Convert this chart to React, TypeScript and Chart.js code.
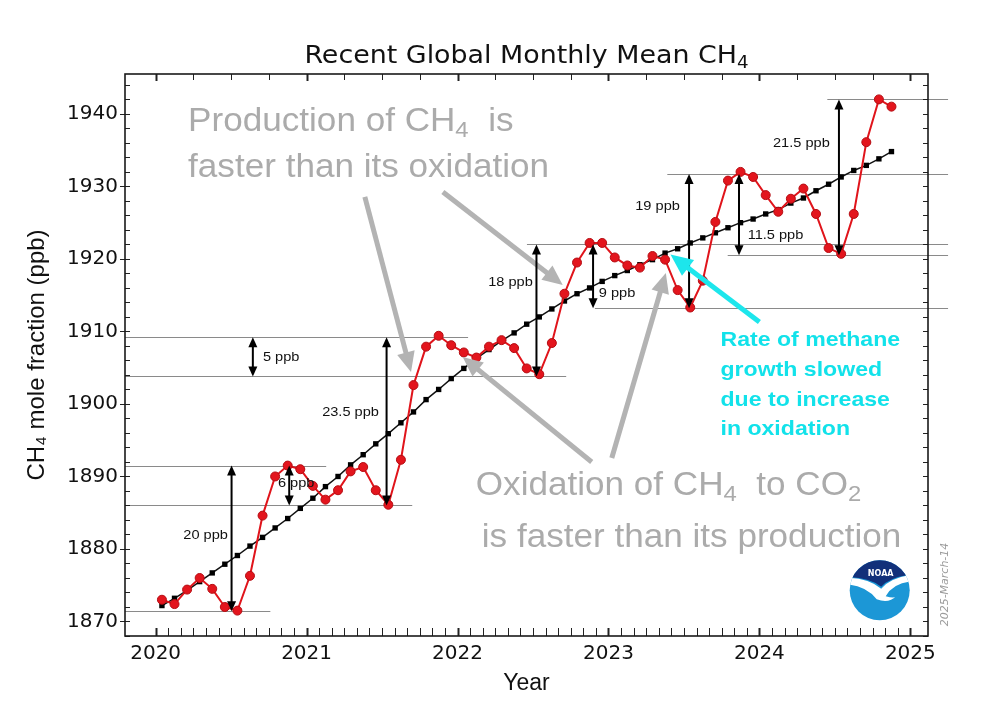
import React, { useEffect, useRef } from "react";
import { Chart, registerables } from "chart.js";

Chart.register(...registerables);

// ---------------- data ----------------
const months = [
  "2020-01","2020-02","2020-03","2020-04","2020-05","2020-06","2020-07","2020-08","2020-09","2020-10","2020-11","2020-12",
  "2021-01","2021-02","2021-03","2021-04","2021-05","2021-06","2021-07","2021-08","2021-09","2021-10","2021-11","2021-12",
  "2022-01","2022-02","2022-03","2022-04","2022-05","2022-06","2022-07","2022-08","2022-09","2022-10","2022-11","2022-12",
  "2023-01","2023-02","2023-03","2023-04","2023-05","2023-06","2023-07","2023-08","2023-09","2023-10","2023-11","2023-12",
  "2024-01","2024-02","2024-03","2024-04","2024-05","2024-06","2024-07","2024-08","2024-09","2024-10","2024-11",
];

const monthlyMean = [
  1873.0, 1872.4, 1874.4, 1876.0, 1874.5, 1872.0, 1871.5, 1876.3, 1884.6, 1890.0, 1891.5, 1891.0,
  1888.7, 1886.8, 1888.1, 1890.7, 1891.3, 1888.1, 1886.1, 1892.3, 1902.6, 1907.9, 1909.4, 1908.1,
  1907.1, 1906.4, 1907.9, 1908.8, 1907.7, 1904.9, 1904.1, 1908.4, 1915.2, 1919.5, 1922.2, 1922.2,
  1920.2, 1919.1, 1918.8, 1920.4, 1919.9, 1915.7, 1913.3, 1917.0, 1925.1, 1930.8, 1932.0, 1931.3,
  1928.8, 1926.5, 1928.3, 1929.7, 1926.2, 1921.5, 1920.7, 1926.2, 1936.1, 1942.0, 1941.0,
];

const trend = [
  1872.2, 1873.2, 1874.3, 1875.5, 1876.7, 1877.9, 1879.1, 1880.4, 1881.6, 1882.9, 1884.2, 1885.6,
  1887.0, 1888.6, 1890.0, 1891.6, 1893.0, 1894.5, 1895.9, 1897.4, 1898.9, 1900.6, 1902.0, 1903.5,
  1904.9, 1906.3, 1907.5, 1908.7, 1909.8, 1911.0, 1912.0, 1913.1, 1914.2, 1915.2, 1916.0, 1916.9,
  1917.7, 1918.4, 1919.2, 1919.9, 1920.8, 1921.4, 1922.2, 1922.9, 1923.6, 1924.3, 1925.0, 1925.5,
  1926.2, 1926.8, 1927.7, 1928.4, 1929.4, 1930.3, 1931.3, 1932.2, 1932.9, 1933.8, 1934.8,
];

const xTickYears = [2020, 2021, 2022, 2023, 2024, 2025];
const yTickValues = [1870, 1880, 1890, 1900, 1910, 1920, 1930, 1940];

const chartTitle = ["Recent Global Monthly Mean CH", "4"];
const yAxisTitle = "CH\u2084 mole fraction (ppb)";
const xAxisTitle = "Year";

// horizontal reference levels (ppb) and their extent in years
const levelValues = [1871.4, 1891.5, 1886.0, 1909.2, 1903.8, 1922.0, 1913.2, 1931.7, 1920.5, 1942.0];
const levelStarts = [2019.797, 2019.797, 2019.797, 2019.797, 2019.797, 2022.46, 2022.91, 2023.39, 2023.79, 2024.45];
const levelEnds = [2020.76, 2021.13, 2021.70, 2022.07, 2022.72, 2025.25, 2025.25, 2025.25, 2025.25, 2025.25];

// double-headed range arrows
const rangeLabels = ["20 ppb", "6 ppb", "23.5 ppb", "5 ppb", "18 ppb", "9 ppb", "19 ppb", "11.5 ppb", "21.5 ppb"];
const rangeX = [2020.503, 2020.885, 2021.530, 2020.644, 2022.523, 2022.898, 2023.534, 2023.865, 2024.527];
const rangeLow = [1871.4, 1886.0, 1886.0, 1903.8, 1903.8, 1913.2, 1913.2, 1920.5, 1920.5];
const rangeHigh = [1891.5, 1891.5, 1909.2, 1909.2, 1922.0, 1922.0, 1931.7, 1931.7, 1942.0];
const rangeLabelX = [2020.479, 2020.81, 2021.479, 2020.711, 2022.499, 2022.936, 2023.473, 2023.922, 2024.466];
const rangeLabelY = [1881.9, 1889.0, 1898.9, 1906.5, 1916.8, 1915.2, 1927.2, 1923.3, 1936.0];
const rangeLabelSide = ["right", "left", "right", "left", "right", "left", "right", "left", "right"];

// grey pointer arrows [fromX, fromY, toX, toY]
const greyArrows = [
  [2021.386, 1928.55, 2021.692, 1904.41],
  [2021.903, 1929.24, 2022.697, 1916.41],
  [2022.889, 1892.0, 2022.034, 1906.48],
  [2023.022, 1892.55, 2023.380, 1918.07],
];
const cyanArrow = [2024.0, 1911.31, 2023.411, 1920.6];

const productionText = [["Production of CH", "4", "  is"], ["faster than its oxidation"]];
const productionX = 2020.215;
const productionY = [1937.66, 1931.3];
const oxidationText = [["Oxidation of CH", "4", "  to CO", "2"], ["is faster than its production"]];
const oxidationX = [2022.121, 2022.161];
const oxidationY = [1887.45, 1880.3];
const cyanText = ["Rate of methane", "growth slowed", "due to increase", "in oxidation"];
const cyanX = 2023.742;
const cyanY = [1908.0, 1903.86, 1899.72, 1895.72];
const stampText = "2025-March-14";

const toDecimalYear = (m: string) => {
  const [y, mo] = m.split("-").map(Number);
  return y + (mo - 0.5) / 12;
};

// ---------------- drawing helpers ----------------
const SX = 1.08;
const SANS = "'Liberation Sans', Arial, sans-serif";

function drawRich(
  ctx: CanvasRenderingContext2D,
  parts: string[],
  x: number,
  y: number,
  size: number,
  family: string,
  weight: string,
  color: string,
  align: "left" | "right" | "center",
  baseline: CanvasTextBaseline,
  sx = SX
) {
  ctx.save();
  ctx.translate(x, y);
  ctx.scale(sx, 1);
  ctx.fillStyle = color;
  ctx.textBaseline = baseline;
  ctx.textAlign = "left";
  const fonts = parts.map((_, i) => {
    const sub = i % 2 === 1;
    return `${weight} ${sub ? size * 0.68 : size}px ${family}`;
  });
  let total = 0;
  const widths = parts.map((p, i) => {
    ctx.font = fonts[i];
    const w = ctx.measureText(p).width;
    total += w;
    return w;
  });
  let cx = align === "right" ? -total : align === "center" ? -total / 2 : 0;
  parts.forEach((p, i) => {
    ctx.font = fonts[i];
    ctx.fillText(p, cx, i % 2 === 1 ? size * 0.2 : 0);
    cx += widths[i];
  });
  ctx.restore();
}

function arrowHead(ctx: CanvasRenderingContext2D, fx: number, fy: number, tx: number, ty: number, len: number, half: number) {
  const a = Math.atan2(ty - fy, tx - fx);
  const bx = tx - len * Math.cos(a);
  const by = ty - len * Math.sin(a);
  ctx.beginPath();
  ctx.moveTo(tx, ty);
  ctx.lineTo(bx + half * Math.sin(a), by - half * Math.cos(a));
  ctx.lineTo(bx - half * Math.sin(a), by + half * Math.cos(a));
  ctx.closePath();
  ctx.fill();
}

function pointer(ctx: CanvasRenderingContext2D, fx: number, fy: number, tx: number, ty: number, color: string, width: number, len: number, half: number) {
  ctx.save();
  ctx.strokeStyle = color;
  ctx.fillStyle = color;
  ctx.lineWidth = width;
  const a = Math.atan2(ty - fy, tx - fx);
  const ex = tx - (len - 2) * Math.cos(a);
  const ey = ty - (len - 2) * Math.sin(a);
  ctx.beginPath();
  ctx.moveTo(fx, fy);
  ctx.lineTo(ex, ey);
  ctx.stroke();
  arrowHead(ctx, fx, fy, tx, ty, len, half);
  ctx.restore();
}

function drawNoaa(ctx: CanvasRenderingContext2D, cx: number, cy: number, r: number) {
  ctx.save();
  ctx.beginPath();
  ctx.arc(cx, cy, r + 1.5, 0, Math.PI * 2);
  ctx.fillStyle = "#ffffff";
  ctx.fill();
  ctx.beginPath();
  ctx.arc(cx, cy, r, 0, Math.PI * 2);
  ctx.fillStyle = "#1c97d6";
  ctx.fill();
  ctx.clip();
  ctx.beginPath();
  ctx.moveTo(cx - r * 1.2, cy - r * 1.2);
  ctx.lineTo(cx + r * 1.2, cy - r * 1.2);
  ctx.lineTo(cx + r * 1.2, cy - r * 0.55);
  ctx.quadraticCurveTo(cx + r * 0.35, cy - r * 0.45, cx + r * 0.05, cy - r * 0.12);
  ctx.quadraticCurveTo(cx - r * 0.35, cy - r * 0.45, cx - r * 1.2, cy - r * 0.45);
  ctx.closePath();
  ctx.fillStyle = "#12307a";
  ctx.fill();
  ctx.beginPath();
  ctx.moveTo(cx - r * 1.1, cy - r * 0.42);
  ctx.quadraticCurveTo(cx - r * 0.35, cy - r * 0.4, cx + r * 0.05, cy - r * 0.05);
  ctx.quadraticCurveTo(cx + r * 0.35, cy - r * 0.42, cx + r * 1.1, cy - r * 0.52);
  ctx.lineTo(cx + r * 1.1, cy - r * 0.3);
  ctx.quadraticCurveTo(cx + r * 0.45, cy - r * 0.25, cx + r * 0.2, cy + r * 0.2);
  ctx.quadraticCurveTo(cx + r * 0.5, cy + r * 0.28, cx + r * 0.55, cy + r * 0.2);
  ctx.quadraticCurveTo(cx + r * 0.3, cy + r * 0.45, cx - r * 0.1, cy + r * 0.3);
  ctx.quadraticCurveTo(cx - r * 0.45, cy - r * 0.15, cx - r * 1.1, cy - r * 0.2);
  ctx.closePath();
  ctx.fillStyle = "#ffffff";
  ctx.fill();
  ctx.font = "bold 8px 'DejaVu Sans'";
  ctx.textAlign = "center";
  ctx.textBaseline = "middle";
  ctx.fillText("NOAA", cx + 1, cy - r * 0.55);
  ctx.restore();
}

// ---------------- plugins ----------------
const levelsPlugin = {
  id: "levels",
  beforeDatasetsDraw(chart: any) {
    const { ctx, scales } = chart;
    const xs = scales.x, ys = scales.y;
    ctx.save();
    ctx.strokeStyle = "#8a8a8a";
    ctx.lineWidth = 1;
    levelValues.forEach((v, i) => {
      const y = Math.round(ys.getPixelForValue(v)) + 0.5;
      ctx.beginPath();
      ctx.moveTo(xs.getPixelForValue(levelStarts[i]), y);
      ctx.lineTo(xs.getPixelForValue(levelEnds[i]), y);
      ctx.stroke();
    });
    ctx.restore();
  },
};

const annotationsPlugin = {
  id: "annotations",
  afterDatasetsDraw(chart: any) {
    const { ctx, scales } = chart;
    const xs = scales.x, ys = scales.y;
    const X = (v: number) => xs.getPixelForValue(v);
    const Y = (v: number) => ys.getPixelForValue(v);

    productionText.forEach((parts, i) => {
      drawRich(ctx, parts, X(productionX), Y(productionY[i]), 32.5, SANS, "normal", "#ababab", "left", "alphabetic");
    });
    oxidationText.forEach((parts, i) => {
      drawRich(ctx, parts, X(oxidationX[i]), Y(oxidationY[i]), 32.5, SANS, "normal", "#ababab", "left", "alphabetic");
    });

    greyArrows.forEach((a) => {
      pointer(ctx, X(a[0]), Y(a[1]), X(a[2]), Y(a[3]), "#b3b3b3", 5, 20, 9);
    });

    ctx.save();
    ctx.strokeStyle = "#000";
    ctx.fillStyle = "#000";
    ctx.lineWidth = 2;
    rangeX.forEach((xv, i) => {
      const x = X(xv);
      const yTop = Y(rangeHigh[i]);
      const yBot = Y(rangeLow[i]);
      ctx.beginPath();
      ctx.moveTo(x, yTop + 8);
      ctx.lineTo(x, yBot - 8);
      ctx.stroke();
      arrowHead(ctx, x, yBot, x, yTop, 10, 4.5);
      arrowHead(ctx, x, yTop, x, yBot, 10, 4.5);
    });
    ctx.restore();
    rangeLabels.forEach((t, i) => {
      drawRich(ctx, [t], X(rangeLabelX[i]), Y(rangeLabelY[i]), 13.5, SANS, "normal", "#111", rangeLabelSide[i] as any, "middle");
    });

    pointer(ctx, X(cyanArrow[0]), Y(cyanArrow[1]), X(cyanArrow[2]), Y(cyanArrow[3]), "#1de6ec", 5, 22, 10);
    cyanText.forEach((t, i) => {
      drawRich(ctx, [t], X(cyanX), Y(cyanY[i]), 21, SANS, "bold", "#12e2ea", "left", "alphabetic", 1.1);
    });

    drawNoaa(ctx, X(2024.797), Y(1874.3), 30);
    ctx.save();
    ctx.translate(945, Y(1875.1));
    ctx.rotate(-Math.PI / 2);
    ctx.font = "italic 11px 'DejaVu Sans'";
    ctx.fillStyle = "#9c9c9c";
    ctx.textAlign = "center";
    ctx.textBaseline = "middle";
    ctx.fillText(stampText, 0, 0);
    ctx.restore();
  },
  afterDraw(chart: any) {
    const { ctx, scales, chartArea } = chart;
    const xs = scales.x, ys = scales.y;
    const { left, right, top, bottom } = chartArea;

    // title, centred over the plot area
    drawRich(ctx, chartTitle, (left + right) / 2, 63, 25, "'DejaVu Sans'", "normal", "#111", "center", "alphabetic", 1.075);

    ctx.save();
    ctx.strokeStyle = "#222";
    xTickYears.forEach((yr, k) => {
      for (let m = 0; m < 12; m++) {
        if (k === xTickYears.length - 1 && m > 0) break;
        const x = Math.round(xs.getPixelForValue(yr + m / 12)) + 0.5;
        ctx.lineWidth = m === 0 ? 2 : 1;
        ctx.beginPath();
        ctx.moveTo(x, bottom);
        ctx.lineTo(x, bottom - 8);
        ctx.stroke();
        if (m % 3 === 0) {
          ctx.beginPath();
          ctx.moveTo(x, top);
          ctx.lineTo(x, top + (m === 0 ? 7 : 6));
          ctx.stroke();
        }
      }
    });
    ctx.lineWidth = 1;
    for (let v = 1868; v <= 1945; v += 2) {
      const y = Math.round(ys.getPixelForValue(v)) + 0.5;
      const major = yTickValues.includes(v);
      ctx.beginPath();
      ctx.moveTo(left - (major ? 5 : 0), y);
      ctx.lineTo(left + 5, y);
      ctx.stroke();
      ctx.beginPath();
      ctx.moveTo(right, y);
      ctx.lineTo(right - 5, y);
      ctx.stroke();
    }
    ctx.lineWidth = 1.6;
    ctx.strokeStyle = "#1a1a1a";
    ctx.strokeRect(left, top, right - left, bottom - top);
    ctx.restore();
  },
};

// ---------------- component ----------------
export default function App() {
  const ref = useRef<HTMLCanvasElement | null>(null);

  useEffect(() => {
    if (!ref.current) return;
    const xsData = months.map(toDecimalYear);
    const chart = new Chart(ref.current, {
      type: "line",
      data: {
        datasets: [
          {
            label: "Monthly mean",
            data: xsData.map((x, i) => ({ x, y: monthlyMean[i] })),
            borderColor: "#e0141b",
            borderWidth: 2,
            pointRadius: 4.5,
            pointBackgroundColor: "#e3151d",
            pointBorderColor: "#b40c12",
            pointBorderWidth: 1,
            tension: 0,
            order: 0,
          },
          {
            label: "Trend",
            data: xsData.map((x, i) => ({ x, y: trend[i] })),
            borderColor: "#111111",
            borderWidth: 1.5,
            pointStyle: "rect",
            pointRadius: 3.8,
            pointBackgroundColor: "#000000",
            pointBorderColor: "#000000",
            pointBorderWidth: 0,
            tension: 0,
            order: 1,
          },
        ],
      },
      options: {
        responsive: false,
        animation: false,
        devicePixelRatio: 1,
        layout: { padding: { top: 74, right: 72, bottom: 0, left: 0 } },
        plugins: {
          legend: { display: false },
          tooltip: { enabled: false },
          title: { display: false },
        },
        scales: {
          x: {
            type: "linear",
            min: 2019.797,
            max: 2025.117,
            afterBuildTicks: (s: any) => {
              s.ticks = xTickYears.map((v) => ({ value: v }));
            },
            afterFit: (s: any) => {
              s.height = 83;
            },
            grid: { display: false, drawTicks: false },
            border: { display: false },
            ticks: {
              autoSkip: false,
              maxRotation: 0,
              padding: 6,
              color: "#111",
              font: { family: "'DejaVu Sans'", size: 20 },
              callback: (v: any) => String(v),
            },
            title: {
              display: true,
              text: xAxisTitle,
              color: "#111",
              font: { family: SANS, size: 23 },
              padding: { top: 0, bottom: 22 },
            },
          },
          y: {
            type: "linear",
            min: 1868,
            max: 1945.5,
            afterBuildTicks: (s: any) => {
              s.ticks = yTickValues.map((v) => ({ value: v }));
            },
            afterFit: (s: any) => {
              s.width = 125;
            },
            grid: { display: false, drawTicks: false },
            border: { display: false },
            ticks: {
              padding: 7,
              color: "#111",
              font: { family: "'DejaVu Sans'", size: 20 },
              callback: (v: any) => String(v),
            },
            title: {
              display: true,
              text: yAxisTitle,
              color: "#111",
              font: { family: "'Liberation Sans', 'DejaVu Sans', sans-serif", size: 24 },
              padding: { top: 23, bottom: 0 },
            },
          },
        },
      },
      plugins: [levelsPlugin, annotationsPlugin],
    });
    return () => chart.destroy();
  }, []);

  return (
    <div style={{ position: "absolute", left: 0, top: 0, width: 1000, height: 719, background: "#fff" }}>
      <canvas ref={ref} width={1000} height={719} style={{ display: "block" }} />
    </div>
  );
}
